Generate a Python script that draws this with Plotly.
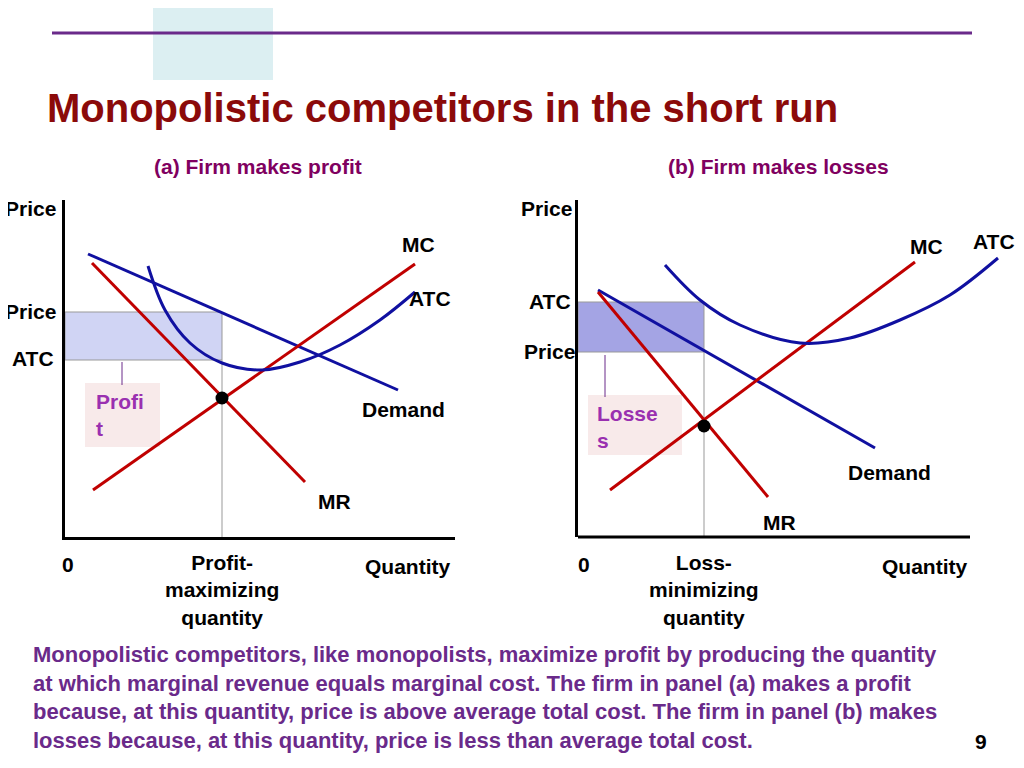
import plotly.graph_objects as go

W, H = 1008, 752  # page body margin of 8px
OFF = 8
# Panel (a) data (units: quantity, price)
a_demand_x = [23, 333]; a_demand_y = [283, 147]
a_mr_x = [27, 240]; a_mr_y = [274, 55]
a_mc_x = [28, 350]; a_mc_y = [47, 273]
a_atc_x = [83, 100, 125, 157, 197, 235, 275, 315, 350]
a_atc_y = [271, 227, 194, 174, 167, 175, 192, 217, 245]
a_q = 157; a_price = 225; a_atc = 177; a_mcmr = 139
# Panel (b)
b_demand_x = [20, 297]; b_demand_y = [247, 89]
b_mr_x = [20, 190]; b_mr_y = [245, 40]
b_mc_x = [32, 337]; b_mc_y = [47, 275]
b_atc_x = [87, 122, 162, 222, 272, 322, 372, 420]
b_atc_y = [272, 237, 212, 194, 199, 217, 242, 279]
b_q = 126; b_price = 185; b_atc = 235; b_mcmr = 111

fig = go.Figure()
red = "#c00000"; blue = "#1010a0"

def PX(x): return (x - OFF) / W
def PY(y): return 1 - (y - OFF) / H

def panel(xa, ya, dx, dy, mx, my, cx, cy, ax_, ay_, q, p_top, p_bot, pt, fill):
    kw = dict(xaxis=xa, yaxis=ya, showlegend=False, hoverinfo="skip")
    fig.add_trace(go.Scatter(x=[0, q, q, 0, 0], y=[p_bot, p_bot, p_top, p_top, p_bot], fill="toself",
                             fillcolor=fill, line=dict(color="#999", width=1), mode="lines", **kw))
    fig.add_trace(go.Scatter(x=[q, q], y=[0, p_bot], mode="lines", line=dict(color="#999", width=1), **kw))
    fig.add_trace(go.Scatter(x=dx, y=dy, mode="lines", line=dict(color=blue, width=3), **kw))
    fig.add_trace(go.Scatter(x=mx, y=my, mode="lines", line=dict(color=red, width=3), **kw))
    fig.add_trace(go.Scatter(x=cx, y=cy, mode="lines", line=dict(color=red, width=3), **kw))
    fig.add_trace(go.Scatter(x=ax_, y=ay_, mode="lines", line=dict(color=blue, width=3, shape="spline"), **kw))
    fig.add_trace(go.Scatter(x=[q], y=[pt], mode="markers", marker=dict(color="black", size=13), **kw))

panel("x", "y", a_demand_x, a_demand_y, a_mr_x, a_mr_y, a_mc_x, a_mc_y, a_atc_x, a_atc_y,
      a_q, a_price, a_atc, a_mcmr, "#d0d4f4")
panel("x2", "y2", b_demand_x, b_demand_y, b_mr_x, b_mr_y, b_mc_x, b_mc_y, b_atc_x, b_atc_y,
      b_q, b_atc, b_price, b_mcmr, "#a4a4e4")

ax = dict(showgrid=False, zeroline=False, showticklabels=False, showline=True, linecolor="black",
          linewidth=3, ticks="")
yd = [PY(537), PY(200)]
fig.update_layout(
    width=W, height=H, margin=dict(l=0, r=0, t=0, b=0), plot_bgcolor="white", paper_bgcolor="white",
    xaxis=dict(ax, domain=[PX(65), PX(455)], range=[0, 390], anchor="y"),
    yaxis=dict(ax, domain=yd, range=[0, 337], anchor="x"),
    xaxis2=dict(ax, domain=[PX(578), PX(1000) if PX(1000) <= 1 else 1], range=[0, 422], anchor="y2", showline=False),
    yaxis2=dict(ax, domain=yd, range=[0, 337], anchor="x2"),
)
fig.add_shape(type="line", xref="paper", yref="paper", x0=PX(578), x1=PX(970), y0=yd[0], y1=yd[0],
              line=dict(color="black", width=3))

shapes = [
    dict(type="rect", x0=153, x1=273, y0=8, y1=80, fillcolor="#dceff2", line=dict(width=0)),
    dict(type="line", x0=52, x1=972, y0=33, y1=33, line=dict(color="#6a2a8a", width=3)),
    dict(type="rect", x0=85, x1=160, y0=383, y1=447, fillcolor="#f8eaea", line=dict(width=0)),
    dict(type="line", x0=122, x1=122, y0=362, y1=385, line=dict(color="#6a2a8a", width=1)),
    dict(type="rect", x0=588, x1=682, y0=395, y1=455, fillcolor="#f8eaea", line=dict(width=0)),
    dict(type="line", x0=605, x1=605, y0=355, y1=397, line=dict(color="#6a2a8a", width=1)),
]
for s in shapes:
    s = dict(s)
    s["xref"] = "paper"; s["yref"] = "paper"
    s["x0"], s["y0"] = PX(s["x0"]), PY(s["y0"]); s["x1"], s["y1"] = PX(s["x1"]), PY(s["y1"])
    fig.add_shape(**s, layer="below")

def T(x, y, text, size=21, color="black", xa="left", bold=True, fam="Liberation Sans"):
    fig.add_annotation(x=PX(x), y=PY(y), xref="paper", yref="paper", text=f"<b>{text}</b>" if bold else text,
                       showarrow=False, xanchor=xa, yanchor="middle", align=xa,
                       font=dict(size=size, color=color, family=fam))

T(45, 108, "Monopolistic competitors in the short run", 40, "#8b0a0a")
T(258, 166, "(a) Firm makes profit", 21, "#800060", "center")
T(778, 166, "(b) Firm makes losses", 21, "#800060", "center")
T(3, 209, "Price"); T(3, 311, "Price"); T(10, 358, "ATC"); T(60, 564, "0")
T(400, 244, "MC"); T(407, 298, "ATC"); T(360, 410, "Demand"); T(316, 501, "MR")
T(222, 590, "Profit-<br>maximizing<br>quantity", xa="center"); T(363, 566, "Quantity")
T(94, 415, "Profi<br>t", color="#9a30b0")
T(519, 209, "Price"); T(527, 301, "ATC"); T(522, 352, "Price"); T(576, 564, "0")
T(908, 247, "MC"); T(971, 241, "ATC"); T(846, 472, "Demand"); T(761, 522, "MR")
T(704, 590, "Loss-<br>minimizing<br>quantity", xa="center"); T(880, 566, "Quantity")
T(595, 427, "Losse<br>s", color="#9a30b0")
T(31, 697, "Monopolistic competitors, like monopolists, maximize profit by producing the quantity<br>"
    "at which marginal revenue equals marginal cost. The firm in panel (a) makes a profit<br>"
    "because, at this quantity, price is above average total cost. The firm in panel (b) makes<br>"
    "losses because, at this quantity, price is less than average total cost.", 22, "#6a2a8a")
T(973, 741, "9", 21)
fig.write_html("out.html")
